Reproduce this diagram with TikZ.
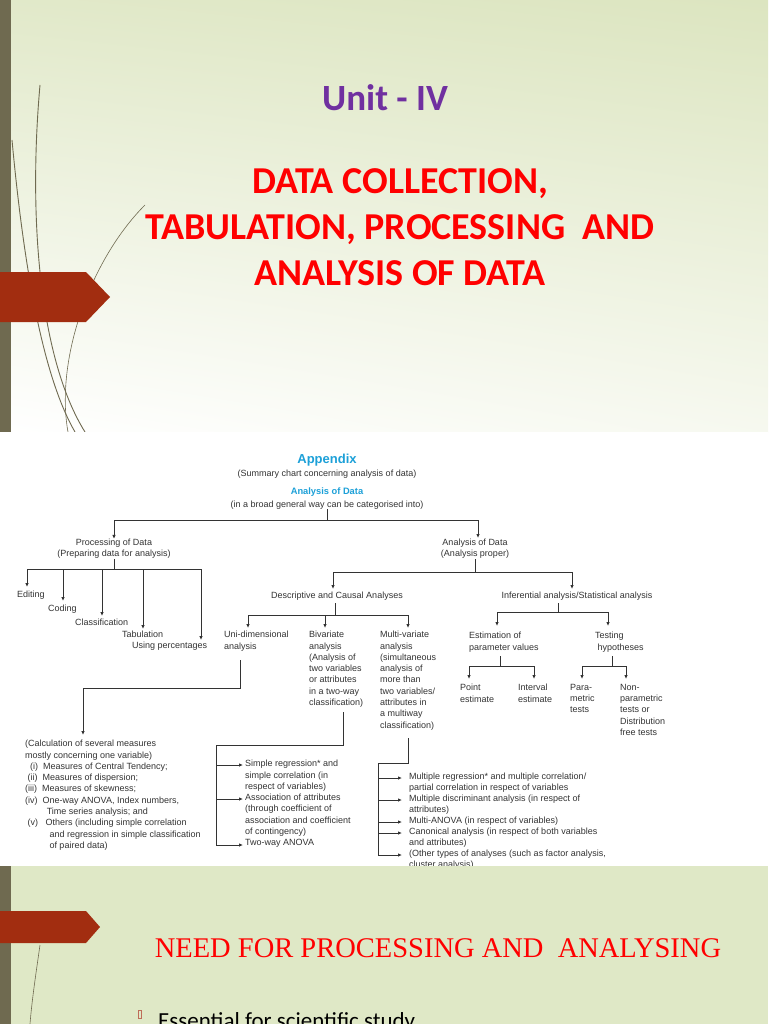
\documentclass[tikz,border=0pt]{standalone}
\usepackage{fontspec}
\setmainfont{Carlito}
\newfontfamily\chartfont{Liberation Sans}
\newfontfamily\serifred{Liberation Serif}
\usetikzlibrary{arrows.meta,shadings}
\definecolor{bar}{HTML}{6F6A50}
\definecolor{arrowred}{HTML}{A22D10}
\definecolor{slidegreen}{HTML}{DCE5C0}
\definecolor{purp}{HTML}{7030A0}
\definecolor{appblue}{HTML}{1CA0D8}
\definecolor{ln}{HTML}{333333}
\begin{document}
\begin{tikzpicture}[x=1pt,y=-1pt,
  txt/.style={font=\fontsize{9}{11.3}\selectfont\chartfont, text=ln, inner sep=0pt, align=left, anchor=north west},
  ctr/.style={font=\fontsize{9}{11.3}\selectfont\chartfont, text=ln, inner sep=0pt, align=center},
  conn/.style={draw=ln, line width=0.8pt},
  arr/.style={conn, -{Latex[length=4pt,width=3.5pt]}},
  deco/.style={draw=bar, line width=0.9pt}]
\useasboundingbox (0,0) rectangle (768,1024);
% ---------- top slide ----------
\shade[upper right=slidegreen, upper left=slidegreen!85!white, lower right=slidegreen!25!white, lower left=white] (0,0) rectangle (768,432);
\fill[bar] (0,0) rectangle (11,432);
\draw[deco] (40,85) .. controls (28,220) and (40,360) .. (85,432);
\draw[deco] (12,140) .. controls (25,280) and (45,380) .. (75,432);
\draw[deco, line width=0.6pt] (145,205) .. controls (90,260) and (55,360) .. (68,432);
\fill[arrowred] (0,272) -- (86,272) -- (110,297) -- (86,322) -- (0,322) -- cycle;
\node[text=purp, font=\fontsize{37}{40}\selectfont\bfseries] (unit) at (385,98) {Unit - IV};
\node[text=red, font=\fontsize{38}{46}\selectfont\bfseries, align=center] (title) at (400,227)
  {DATA COLLECTION,\\TABULATION, PROCESSING\ \ AND\\ANALYSIS OF DATA};
% ---------- chart ----------
\fill[white] (0,432) rectangle (768,866);
\begin{scope}
\clip (0,432) rectangle (768,866);
\node[text=appblue, font=\fontsize{13}{14}\selectfont\chartfont\bfseries] (app) at (327,460) {Appendix};
\node[ctr] (summ) at (327,474) {(Summary chart concerning analysis of data)};
\node[text=appblue, font=\fontsize{9.3}{10}\selectfont\chartfont\bfseries] (aod) at (327,492) {Analysis of Data};
\node[ctr] (broad) at (327,505) {(in a broad general way can be categorised into)};
\coordinate (j1) at (327,520);
\draw[conn] (broad.south) -- (j1);
\node[ctr] (proc) at (114,549) {Processing of Data\\(Preparing data for analysis)};
\node[ctr] (anal) at (475,549) {Analysis of Data\\(Analysis proper)};
\draw[arr] (j1) -- (114,520) -- (proc.north);
\draw[arr] (j1) -- (478,520) -- (478,538);
% processing children
\coordinate (j2) at (114,569);
\draw[conn] (proc.south) -- (j2);
\node[txt, anchor=west] (edit) at (17,595) {Editing};
\node[txt, anchor=west] (cod) at (48,609) {Coding};
\node[txt, anchor=west] (clas) at (75,622) {Classification};
\node[txt, anchor=west] (tab) at (122,634) {Tabulation};
\node[txt, anchor=west] (pct) at (132,646) {Using percentages};
\draw[conn] (27,569) -- (201,569);
\draw[arr] (27,569) -- (27,587);
\draw[arr] (63,569) -- (63,601);
\draw[arr] (102,569) -- (102,616);
\draw[arr] (143,569) -- (143,629);
\draw[arr] (201,569) -- (201,640);
% analysis proper
\coordinate (j3) at (475,572);
\draw[conn] (anal.south) -- (j3);
\node[ctr] (desc) at (337,596) {Descriptive and Causal Analyses};
\node[ctr] (inf) at (577,596) {Inferential analysis/Statistical analysis};
\draw[arr] (j3) -- (333,572) -- (333,589);
\draw[arr] (j3) -- (572,572) -- (572,589);
% descriptive children
\coordinate (j4) at (335,615);
\draw[conn] (335,603) -- (j4);
\node[txt] (uni) at (224,631) {Uni-dimensional\\analysis};
\node[txt] (biv) at (309,631) {Bivariate\\analysis\\(Analysis of\\two variables\\or attributes\\in a two-way\\classification)};
\node[txt] (mult) at (380,631) {Multi-variate\\analysis\\(simultaneous\\analysis of\\more than\\two variables/\\attributes in\\a multiway\\classification)};
\draw[conn] (248,615) -- (408,615);
\draw[arr] (248,615) -- (248,628);
\draw[arr] (325,615) -- (325,628);
\draw[arr] (408,615) -- (408,628);
% inferential children
\coordinate (j5) at (558,612);
\draw[conn] (558,603) -- (j5);
\node[txt] (est) at (469,632) {Estimation of\\parameter values};
\node[txt] (test) at (595,632) {Testing\\\ hypotheses};
\draw[conn] (497,612) -- (608,612);
\draw[arr] (497,612) -- (497,626);
\draw[arr] (608,612) -- (608,626);
\coordinate (j6) at (500,666);
\draw[conn] (500,656) -- (j6);
\draw[conn] (469,666) -- (534,666);
\draw[arr] (469,666) -- (469,679);
\draw[arr] (534,666) -- (534,679);
\node[txt] (pt) at (460,684) {Point\\estimate};
\node[txt] (iv) at (518,684) {Interval\\estimate};
\coordinate (j7) at (612,666);
\draw[conn] (612,656) -- (j7);
\draw[conn] (582,666) -- (626,666);
\draw[arr] (582,666) -- (582,679);
\draw[arr] (626,666) -- (626,679);
\node[txt] (para) at (570,684) {Para-\\metric\\tests};
\node[txt] (nonp) at (620,684) {Non-\\parametric\\tests or\\Distribution\\free tests};
% uni-dimensional detail
\node[txt] (calc) at (25,740) {(Calculation of several measures\\mostly concerning one variable)\\
\ \ (i)\ \ Measures of Central Tendency;\\
\ (ii)\ \ Measures of dispersion;\\
(iii)\ \ Measures of skewness;\\
(iv)\ \ One-way ANOVA, Index numbers,\\
\hspace*{2.4em}Time series analysis; and\\
\ (v)\ \ \ Others (including simple correlation\\
\hspace*{2.7em}and regression in simple classification\\
\hspace*{2.7em}of paired data)};
\draw[arr] (240,660) -- (240,688) -- (83,688) -- (83,735);
% bivariate detail
\node[txt] (bivd) at (245,760) {Simple regression* and\\simple correlation (in\\respect of variables)\\Association of attributes\\(through coefficient of\\association and coefficient\\of contingency)\\Two-way ANOVA};
\draw[conn] (343,712) -- (343,745) -- (216,745) -- (216,845);
\draw[arr] (216,765) -- (243,765);
\draw[arr] (216,799) -- (243,799);
\draw[arr] (216,845) -- (243,845);
% multivariate detail
\node[txt, font=\fontsize{9}{11}\selectfont\chartfont] (multd) at (409,773) {Multiple regression* and multiple correlation/\\partial correlation in respect of variables\\Multiple discriminant analysis (in respect of\\attributes)\\Multi-ANOVA (in respect of variables)\\Canonical analysis (in respect of both variables\\and attributes)\\(Other types of analyses (such as factor analysis,\\cluster analysis)};
\draw[conn] (408,738) -- (408,763) -- (378,763) -- (378,855);
\draw[arr] (378,778) -- (402,778);
\draw[arr] (378,800) -- (402,800);
\draw[arr] (378,822) -- (402,822);
\draw[arr] (378,833) -- (402,833);
\draw[arr] (378,855) -- (402,855);
\end{scope}
% ---------- bottom slide ----------
\fill[slidegreen!90!white] (0,866) rectangle (768,1024);
\fill[bar] (0,866) rectangle (11,1024);
\draw[deco, line width=0.6pt] (40,945) .. controls (35,980) and (32,1000) .. (30,1024);
\fill[arrowred] (0,911) -- (86,911) -- (100,927) -- (86,943) -- (0,943) -- cycle;
\node[text=red, font=\fontsize{28.5}{30}\selectfont\serifred] (need) at (438,948) {NEED FOR PROCESSING AND\ \ ANALYSING};
\node[draw=arrowred!70, line width=0.5pt, minimum width=3pt, minimum height=8pt, inner sep=0pt] (bul) at (140,1014) {};
\node[anchor=west, font=\fontsize{23}{26}\selectfont, inner sep=0pt] (ess) at (158,1022) {Essential for scientific study};
\end{tikzpicture}
\end{document}
